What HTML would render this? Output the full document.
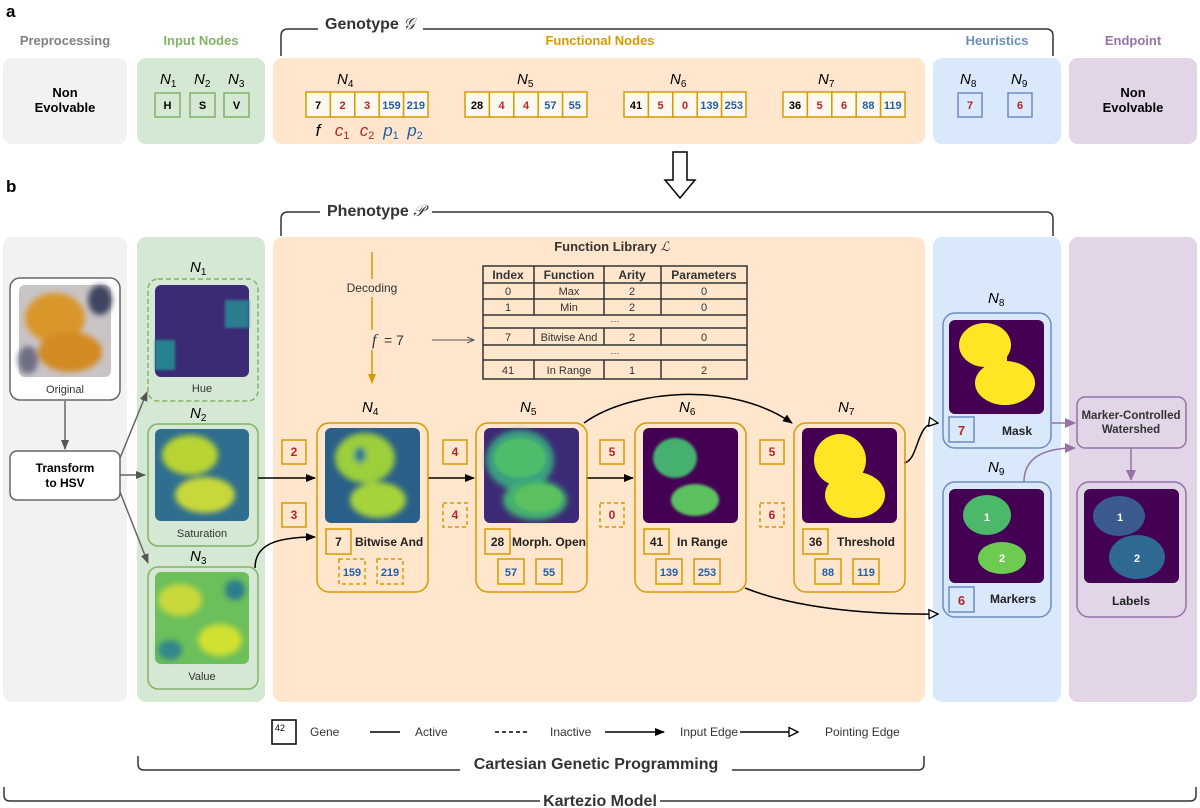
<!DOCTYPE html>
<html><head><meta charset="utf-8"><style>
html,body{margin:0;padding:0;background:#fff}
svg{display:block}
text{font-family:"Liberation Sans",sans-serif}
.b{font-weight:bold}
.m{font-family:"Liberation Serif",serif;font-style:italic}
</style></head><body>
<svg width="1200" height="808" viewBox="0 0 1200 808" xmlns="http://www.w3.org/2000/svg">
<defs>
<marker id="ar" markerWidth="10" markerHeight="10" refX="9" refY="5" orient="auto" markerUnits="userSpaceOnUse"><path d="M0,1 L10,5 L0,9 Z" fill="#000"/></marker>
<marker id="ag" markerWidth="10" markerHeight="10" refX="9" refY="5" orient="auto" markerUnits="userSpaceOnUse"><path d="M0,1 L10,5 L0,9 Z" fill="#555"/></marker>
<marker id="ah" markerWidth="11" markerHeight="11" refX="10" refY="5.5" orient="auto" markerUnits="userSpaceOnUse"><path d="M1,1 L10,5.5 L1,10 Z" fill="#fff" stroke="#000" stroke-width="1.3"/></marker>
<marker id="ap" markerWidth="12" markerHeight="12" refX="10" refY="6" orient="auto" markerUnits="userSpaceOnUse"><path d="M0,1 L11,6 L0,11 Z" fill="#9673a6"/></marker>
<marker id="ao" markerWidth="10" markerHeight="10" refX="9" refY="5" orient="auto" markerUnits="userSpaceOnUse"><path d="M0,1 L10,5 L0,9 Z" fill="#d79b00"/></marker>
<marker id="at" markerWidth="8" markerHeight="8" refX="7" refY="4" orient="auto" markerUnits="userSpaceOnUse"><path d="M0,1 L7,4 L0,7" fill="none" stroke="#555"/></marker>
<filter id="bl"><feGaussianBlur stdDeviation="3"/></filter>
<filter id="bl2"><feGaussianBlur stdDeviation="1.2"/></filter>
</defs>

<!-- a -->
<text x="6" y="17" class="b" font-size="17">a</text>
<text x="6" y="192" class="b" font-size="17">b</text>

<!-- headers -->
<text x="65" y="45" class="b" font-size="13" fill="#808080" text-anchor="middle">Preprocessing</text>
<text x="201" y="45" class="b" font-size="13" fill="#82b366" text-anchor="middle">Input Nodes</text>
<text x="600" y="45" class="b" font-size="13" fill="#d79b00" text-anchor="middle">Functional Nodes</text>
<text x="997" y="45" class="b" font-size="13" fill="#6c8ebf" text-anchor="middle">Heuristics</text>
<text x="1133" y="45" class="b" font-size="13" fill="#9673a6" text-anchor="middle">Endpoint</text>

<!-- genotype bracket -->
<path d="M281,56 V36 Q281,29 288,29 H1046 Q1053,29 1053,36 V56" fill="none" stroke="#333" stroke-width="1.5"/>
<rect x="318" y="12" width="105" height="24" fill="#fff"/>
<text x="325" y="29" class="b" font-size="16" fill="#333">Genotype <tspan class="m" font-weight="normal">𝒢</tspan></text>

<!-- top panels -->
<rect x="3" y="58" width="124" height="86" rx="9" fill="#f2f2f2"/>
<rect x="137" y="58" width="128" height="86" rx="9" fill="#d5e8d4"/>
<rect x="273" y="58" width="652" height="86" rx="9" fill="#ffe6cc"/>
<rect x="933" y="58" width="128" height="86" rx="9" fill="#dae8fc"/>
<rect x="1069" y="58" width="128" height="86" rx="9" fill="#e1d5e7"/>
<text x="65" y="97" class="b" font-size="13" text-anchor="middle">Non</text>
<text x="65" y="112" class="b" font-size="13" text-anchor="middle">Evolvable</text>
<text x="1133" y="97" class="b" font-size="13" text-anchor="middle">Non</text>
<text x="1133" y="112" class="b" font-size="13" text-anchor="middle">Evolvable</text>

<g font-size="15" class="m">
<text x="160" y="84">N<tspan font-size="10" dy="3" font-style="normal">1</tspan></text>
<text x="194" y="84">N<tspan font-size="10" dy="3" font-style="normal">2</tspan></text>
<text x="228" y="84">N<tspan font-size="10" dy="3" font-style="normal">3</tspan></text>
<text x="337" y="84">N<tspan font-size="10" dy="3" font-style="normal">4</tspan></text>
<text x="517" y="84">N<tspan font-size="10" dy="3" font-style="normal">5</tspan></text>
<text x="670" y="84">N<tspan font-size="10" dy="3" font-style="normal">6</tspan></text>
<text x="818" y="84">N<tspan font-size="10" dy="3" font-style="normal">7</tspan></text>
<text x="960" y="84">N<tspan font-size="10" dy="3" font-style="normal">8</tspan></text>
<text x="1011" y="84">N<tspan font-size="10" dy="3" font-style="normal">9</tspan></text>
</g>
<g fill="none" stroke="#82b366" stroke-width="1.5">
<rect x="155" y="93" width="25" height="24"/><rect x="190" y="93" width="25" height="24"/><rect x="224" y="93" width="25" height="24"/>
</g>
<g class="b" font-size="11" text-anchor="middle">
<text x="167.5" y="109">H</text><text x="202.5" y="109">S</text><text x="236.5" y="109">V</text>
</g>
<g fill="none" stroke="#6c8ebf" stroke-width="1.5">
<rect x="958" y="93" width="24" height="24"/><rect x="1008" y="93" width="24" height="24"/>
</g>
<text x="970" y="109" class="b" font-size="11" fill="#b5262b" text-anchor="middle">7</text>
<text x="1020" y="109" class="b" font-size="11" fill="#b5262b" text-anchor="middle">6</text>

<!-- gene strips -->
<g fill="#fff8ee" stroke="#d79b00" stroke-width="1.5">
<rect x="306" y="92" width="24.4" height="25"/><rect x="330.4" y="92" width="24.4" height="25"/><rect x="354.8" y="92" width="24.4" height="25"/><rect x="379.2" y="92" width="24.4" height="25"/><rect x="403.6" y="92" width="24.4" height="25"/>
<rect x="465" y="92" width="24.4" height="25"/><rect x="489.4" y="92" width="24.4" height="25"/><rect x="513.8" y="92" width="24.4" height="25"/><rect x="538.2" y="92" width="24.4" height="25"/><rect x="562.6" y="92" width="24.4" height="25"/>
<rect x="624" y="92" width="24.4" height="25"/><rect x="648.4" y="92" width="24.4" height="25"/><rect x="672.8" y="92" width="24.4" height="25"/><rect x="697.2" y="92" width="24.4" height="25"/><rect x="721.6" y="92" width="24.4" height="25"/>
<rect x="783" y="92" width="24.4" height="25"/><rect x="807.4" y="92" width="24.4" height="25"/><rect x="831.8" y="92" width="24.4" height="25"/><rect x="856.2" y="92" width="24.4" height="25"/><rect x="880.6" y="92" width="24.4" height="25"/>
</g>
<g class="b" font-size="11" text-anchor="middle">
<text x="318" y="109">7</text><text x="342.6" y="109" fill="#b5262b">2</text><text x="367" y="109" fill="#b5262b">3</text><text x="391.4" y="109" fill="#1f5fa8">159</text><text x="415.8" y="109" fill="#1f5fa8">219</text>
<text x="477" y="109">28</text><text x="501.6" y="109" fill="#b5262b">4</text><text x="526" y="109" fill="#b5262b">4</text><text x="550.4" y="109" fill="#1f5fa8">57</text><text x="574.8" y="109" fill="#1f5fa8">55</text>
<text x="636" y="109">41</text><text x="660.6" y="109" fill="#b5262b">5</text><text x="685" y="109" fill="#b5262b">0</text><text x="709.4" y="109" fill="#1f5fa8">139</text><text x="733.8" y="109" fill="#1f5fa8">253</text>
<text x="795" y="109">36</text><text x="819.6" y="109" fill="#b5262b">5</text><text x="844" y="109" fill="#b5262b">6</text><text x="868.4" y="109" fill="#1f5fa8">88</text><text x="892.8" y="109" fill="#1f5fa8">119</text>
</g>
<g class="m" font-size="17" text-anchor="middle">
<text x="318" y="136">f</text>
<text x="342" y="136" fill="#b5262b">c<tspan font-size="11" dy="3" font-style="normal">1</tspan></text>
<text x="367" y="136" fill="#b5262b">c<tspan font-size="11" dy="3" font-style="normal">2</tspan></text>
<text x="391" y="136" fill="#1f5fa8">p<tspan font-size="11" dy="3" font-style="normal">1</tspan></text>
<text x="415" y="136" fill="#1f5fa8">p<tspan font-size="11" dy="3" font-style="normal">2</tspan></text>
</g>

<!-- big hollow down arrow -->
<path d="M673,152 H687 V180 H695 L680,198 L665,180 H673 Z" fill="#fff" stroke="#000" stroke-width="1.5"/>

<!-- phenotype bracket -->
<path d="M281,236 V219 Q281,212 288,212 H1046 Q1053,212 1053,219 V236" fill="none" stroke="#333" stroke-width="1.5"/>
<rect x="320" y="198" width="112" height="24" fill="#fff"/>
<text x="327" y="216" class="b" font-size="16" fill="#333">Phenotype <tspan class="m" font-weight="normal">𝒫</tspan></text>

<!-- bottom panels -->
<rect x="3" y="237" width="124" height="465" rx="9" fill="#f2f2f2"/>
<rect x="137" y="237" width="128" height="465" rx="9" fill="#d5e8d4"/>
<rect x="273" y="237" width="652" height="465" rx="9" fill="#ffe6cc"/>
<rect x="933" y="237" width="128" height="465" rx="9" fill="#dae8fc"/>
<rect x="1069" y="237" width="128" height="465" rx="9" fill="#e1d5e7"/>

<!-- original -->
<rect x="10" y="278" width="110" height="122" rx="10" fill="#fff" stroke="#666" stroke-width="1.5"/>
<rect x="19" y="285" width="92" height="92" rx="6" fill="#c9c4c6"/>
<g filter="url(#bl)">
<ellipse cx="55" cy="318" rx="30" ry="25" fill="#d9962c"/>
<ellipse cx="70" cy="352" rx="32" ry="20" fill="#d28a22"/>
<ellipse cx="100" cy="300" rx="12" ry="15" fill="#3d4560"/>
<ellipse cx="28" cy="360" rx="10" ry="14" fill="#6e6e84"/>
</g>
<text x="65" y="393" font-size="11" text-anchor="middle" fill="#333">Original</text>

<rect x="10" y="451" width="110" height="49" rx="7" fill="#fff" stroke="#666" stroke-width="1.5"/>
<text x="65" y="472" class="b" font-size="12" text-anchor="middle">Transform</text>
<text x="65" y="487" class="b" font-size="12" text-anchor="middle">to HSV</text>
<g stroke="#666" stroke-width="1.5" fill="none" marker-end="url(#ag)">
<path d="M65,401 V449"/>
<path d="M120,458 L147,392"/>
<path d="M120,475 H145"/>
<path d="M120,492 L148,563"/>
</g>

<!-- input nodes -->
<g class="m" font-size="15">
<text x="190" y="272">N<tspan font-size="10" dy="3" font-style="normal">1</tspan></text>
<text x="190" y="418">N<tspan font-size="10" dy="3" font-style="normal">2</tspan></text>
<text x="190" y="561">N<tspan font-size="10" dy="3" font-style="normal">3</tspan></text>
</g>
<rect x="148" y="279" width="110" height="122" rx="10" fill="none" stroke="#82b366" stroke-width="1.5" stroke-dasharray="5,3"/>
<rect x="155" y="285" width="94" height="92" rx="6" fill="#3b2a76"/>
<rect x="225" y="300" width="24" height="28" fill="#2a7b8e" filter="url(#bl2)"/>
<rect x="155" y="340" width="20" height="30" fill="#26828e" filter="url(#bl2)"/>
<text x="202" y="392" font-size="11" text-anchor="middle" fill="#333">Hue</text>

<rect x="148" y="424" width="110" height="122" rx="10" fill="none" stroke="#82b366" stroke-width="1.5"/>
<rect x="155" y="429" width="94" height="92" rx="6" fill="#2f6e8e"/>
<g filter="url(#bl)"><ellipse cx="190" cy="455" rx="28" ry="20" fill="#b8d430"/><ellipse cx="205" cy="495" rx="30" ry="18" fill="#c8d83a"/></g>
<text x="202" y="537" font-size="11" text-anchor="middle" fill="#333">Saturation</text>

<rect x="148" y="567" width="110" height="122" rx="10" fill="none" stroke="#82b366" stroke-width="1.5"/>
<rect x="155" y="572" width="94" height="92" rx="6" fill="#6cbf5a"/>
<g filter="url(#bl)"><ellipse cx="180" cy="600" rx="22" ry="16" fill="#c9d93a"/><ellipse cx="220" cy="640" rx="22" ry="16" fill="#d2e030"/><ellipse cx="235" cy="590" rx="10" ry="10" fill="#2a7b8e"/><ellipse cx="170" cy="650" rx="12" ry="10" fill="#30878b"/></g>
<text x="202" y="680" font-size="11" text-anchor="middle" fill="#333">Value</text>

<!-- decoding -->
<path d="M372,252 V383" stroke="#d79b00" stroke-width="1.5" marker-end="url(#ao)"/>
<rect x="340" y="279" width="66" height="18" fill="#ffe6cc"/>
<text x="372" y="292" font-size="12" text-anchor="middle" fill="#333">Decoding</text>
<rect x="360" y="330" width="60" height="20" fill="#ffe6cc"/>
<text x="372" y="345" class="m" font-size="16" fill="#333">f</text><text x="384" y="345" font-size="14" fill="#333">= 7</text>
<path d="M432,340 H474" stroke="#555" stroke-width="1" marker-end="url(#at)"/>

<!-- function library -->
<text x="612" y="251" class="b" font-size="13" fill="#333" text-anchor="middle">Function Library <tspan class="m" font-weight="normal">ℒ</tspan></text>
<g stroke="#333" stroke-width="1.5" fill="none">
<rect x="483" y="266" width="264" height="113"/>
<path d="M483,283 H747 M483,299 H747 M483,315 H747 M483,328 H747 M483,345 H747 M483,360 H747"/>
<path d="M534,266 V315 M604,266 V315 M661,266 V315 M534,328 V345 M604,328 V345 M661,328 V345 M534,360 V379 M604,360 V379 M661,360 V379"/>
</g>
<g font-size="12" text-anchor="middle" fill="#333">
<text x="508" y="279" class="b">Index</text><text x="569" y="279" class="b">Function</text><text x="632" y="279" class="b">Arity</text><text x="704" y="279" class="b">Parameters</text>
<g font-size="11">
<text x="508" y="295">0</text><text x="569" y="295">Max</text><text x="632" y="295">2</text><text x="704" y="295">0</text>
<text x="508" y="311">1</text><text x="569" y="311">Min</text><text x="632" y="311">2</text><text x="704" y="311">0</text>
<text x="615" y="324" font-size="9">···</text>
<text x="508" y="341">7</text><text x="569" y="341">Bitwise And</text><text x="632" y="341">2</text><text x="704" y="341">0</text>
<text x="615" y="356" font-size="9">···</text>
<text x="508" y="374">41</text><text x="569" y="374">In Range</text><text x="632" y="374">1</text><text x="704" y="374">2</text>
</g></g>

<!-- functional node labels -->
<g class="m" font-size="15">
<text x="362" y="412">N<tspan font-size="10" dy="3" font-style="normal">4</tspan></text>
<text x="520" y="412">N<tspan font-size="10" dy="3" font-style="normal">5</tspan></text>
<text x="679" y="412">N<tspan font-size="10" dy="3" font-style="normal">6</tspan></text>
<text x="838" y="412">N<tspan font-size="10" dy="3" font-style="normal">7</tspan></text>
</g>

<!-- connectors -->
<g stroke="#000" stroke-width="1.5" fill="none">
<path d="M258,478 H315" marker-end="url(#ar)"/>
<path d="M255,568 C255,545 275,537 315,537" marker-end="url(#ar)"/>
<path d="M428,478 H474" marker-end="url(#ar)"/>
<path d="M586,478 H633" marker-end="url(#ar)"/>
<path d="M584,423 C630,390 730,380 792,423" marker-end="url(#ar)"/>
<path d="M745,588 C800,610 880,615 938,614" marker-end="url(#ah)"/>
<path d="M904,463 C920,460 915,420 938,423" marker-end="url(#ah)"/>
</g>

<!-- N4..N7 boxes -->
<g fill="none" stroke="#d79b00" stroke-width="1.5">
<rect x="317" y="423" width="111" height="169" rx="12"/>
<rect x="476" y="423" width="111" height="169" rx="12"/>
<rect x="635" y="423" width="111" height="169" rx="12"/>
<rect x="794" y="423" width="111" height="169" rx="12"/>
</g>
<!-- images -->
<rect x="325" y="428" width="95" height="95" rx="6" fill="#2a5f8a"/>
<g filter="url(#bl)"><ellipse cx="365" cy="458" rx="30" ry="25" fill="#9ccf3a"/><ellipse cx="378" cy="500" rx="28" ry="18" fill="#a6d33a"/><ellipse cx="360" cy="455" rx="6" ry="8" fill="#2a7b8e"/></g>
<rect x="484" y="428" width="95" height="95" rx="6" fill="#3b2a76"/>
<g filter="url(#bl)"><ellipse cx="520" cy="460" rx="34" ry="30" fill="#3aa080"/><ellipse cx="535" cy="500" rx="32" ry="20" fill="#45b070"/></g>
<g filter="url(#bl2)"><ellipse cx="520" cy="458" rx="26" ry="20" fill="#50bc6a"/><ellipse cx="538" cy="498" rx="24" ry="14" fill="#5ac060"/></g>
<rect x="643" y="428" width="95" height="95" rx="6" fill="#440154"/>
<g filter="url(#bl2)"><ellipse cx="675" cy="458" rx="22" ry="20" fill="#45b070"/><ellipse cx="695" cy="500" rx="24" ry="16" fill="#5cc060"/></g>
<rect x="802" y="428" width="95" height="95" rx="6" fill="#440154"/>
<g fill="#fde725"><ellipse cx="840" cy="460" rx="26" ry="26"/><ellipse cx="855" cy="495" rx="30" ry="23"/><rect x="832" y="470" width="30" height="25"/></g>

<!-- gene boxes left of nodes -->
<g fill="none" stroke="#d79b00" stroke-width="1.5">
<rect x="282" y="440" width="24" height="24"/>
<rect x="282" y="503" width="24" height="24"/>
<rect x="443" y="440" width="24" height="24"/>
<rect x="443" y="503" width="24" height="24" stroke-dasharray="4,3"/>
<rect x="600" y="440" width="24" height="24"/>
<rect x="600" y="503" width="24" height="24" stroke-dasharray="4,3"/>
<rect x="760" y="440" width="24" height="24"/>
<rect x="760" y="503" width="24" height="24" stroke-dasharray="4,3"/>
<rect x="326" y="529" width="25" height="25" stroke="#d79b00"/>
<rect x="485" y="529" width="25" height="25"/>
<rect x="644" y="529" width="25" height="25"/>
<rect x="803" y="529" width="25" height="25"/>
<rect x="339" y="559" width="26" height="25" stroke-dasharray="4,3"/>
<rect x="377" y="559" width="26" height="25" stroke-dasharray="4,3"/>
<rect x="498" y="559" width="26" height="25"/>
<rect x="536" y="559" width="26" height="25"/>
<rect x="656" y="559" width="26" height="25"/>
<rect x="694" y="559" width="26" height="25"/>
<rect x="815" y="559" width="26" height="25"/>
<rect x="853" y="559" width="26" height="25"/>
</g>
<g class="b" font-size="12" text-anchor="middle" fill="#b5262b">
<text x="294" y="456">2</text><text x="294" y="519">3</text>
<text x="455" y="456">4</text><text x="455" y="519">4</text>
<text x="612" y="456">5</text><text x="612" y="519">0</text>
<text x="772" y="456">5</text><text x="772" y="519">6</text>
</g>
<g class="b" font-size="12" fill="#222">
<text x="338.5" y="546" text-anchor="middle">7</text><text x="355" y="546">Bitwise And</text>
<text x="497.5" y="546" text-anchor="middle">28</text><text x="512" y="546">Morph. Open</text>
<text x="656.5" y="546" text-anchor="middle">41</text><text x="677" y="546">In Range</text>
<text x="815.5" y="546" text-anchor="middle">36</text><text x="837" y="546">Threshold</text>
</g>
<g class="b" font-size="11" text-anchor="middle" fill="#1f5fa8">
<text x="352" y="576">159</text><text x="390" y="576">219</text>
<text x="511" y="576">57</text><text x="549" y="576">55</text>
<text x="669" y="576">139</text><text x="707" y="576">253</text>
<text x="828" y="576">88</text><text x="866" y="576">119</text>
</g>

<!-- heuristics -->
<g class="m" font-size="15">
<text x="988" y="303">N<tspan font-size="10" dy="3" font-style="normal">8</tspan></text>
<text x="988" y="472">N<tspan font-size="10" dy="3" font-style="normal">9</tspan></text>
</g>
<g fill="none" stroke="#6c8ebf" stroke-width="1.5">
<rect x="943" y="313" width="108" height="135" rx="12"/>
<rect x="943" y="482" width="108" height="135" rx="12"/>
<rect x="949" y="417" width="25" height="25"/>
<rect x="949" y="587" width="25" height="25"/>
</g>
<rect x="949" y="320" width="95" height="94" rx="6" fill="#440154"/>
<g fill="#fde725"><ellipse cx="985" cy="345" rx="26" ry="22"/><ellipse cx="1005" cy="383" rx="30" ry="22"/><rect x="985" y="355" width="22" height="20"/></g>
<text x="961.5" y="435" class="b" font-size="13" fill="#b5262b" text-anchor="middle">7</text>
<text x="1017" y="435" class="b" font-size="12" text-anchor="middle" fill="#222">Mask</text>
<rect x="949" y="489" width="95" height="94" rx="6" fill="#440154"/>
<ellipse cx="987" cy="515" rx="24" ry="20" fill="#4cb86a"/>
<ellipse cx="1002" cy="558" rx="24" ry="16" fill="#6ccb50"/>
<text x="987" y="521" class="b" font-size="11" fill="#fff" text-anchor="middle">1</text>
<text x="1002" y="562" class="b" font-size="11" fill="#fff" text-anchor="middle">2</text>
<text x="961.5" y="605" class="b" font-size="13" fill="#b5262b" text-anchor="middle">6</text>
<text x="1013" y="603" class="b" font-size="12" text-anchor="middle" fill="#222">Markers</text>

<!-- endpoint -->
<g stroke="#9673a6" stroke-width="1.5" fill="none">
<path d="M1052,423 H1075" marker-end="url(#ap)"/>
<path d="M1024,482 C1024,460 1040,448 1075,448" marker-end="url(#ap)"/>
<path d="M1131,448 V480" marker-end="url(#ap)"/>
<rect x="1077" y="397" width="109" height="51" rx="8" fill="#e1d5e7"/>
<rect x="1077" y="482" width="109" height="135" rx="12"/>
</g>
<text x="1131" y="419" class="b" font-size="11.5" text-anchor="middle" fill="#333">Marker-Controlled</text>
<text x="1131" y="433" class="b" font-size="11.5" text-anchor="middle" fill="#333">Watershed</text>
<rect x="1084" y="489" width="95" height="94" rx="6" fill="#440154"/>
<ellipse cx="1119" cy="516" rx="26" ry="20" fill="#3b5a8e"/>
<ellipse cx="1137" cy="557" rx="28" ry="22" fill="#2f6890"/>
<text x="1120" y="521" class="b" font-size="11" fill="#fff" text-anchor="middle">1</text>
<text x="1137" y="562" class="b" font-size="11" fill="#fff" text-anchor="middle">2</text>
<text x="1131" y="605" class="b" font-size="12" text-anchor="middle" fill="#222">Labels</text>

<!-- legend -->
<rect x="272" y="720" width="24" height="24" fill="none" stroke="#000" stroke-width="1.5"/>
<text x="275" y="731" font-size="9">42</text>
<text x="310" y="736" font-size="12" fill="#333">Gene</text>
<path d="M370,732 H400" stroke="#000" stroke-width="1.5"/>
<text x="415" y="736" font-size="12" fill="#333">Active</text>
<path d="M495,732 H527" stroke="#000" stroke-width="1.5" stroke-dasharray="4,3"/>
<text x="550" y="736" font-size="12" fill="#333">Inactive</text>
<path d="M605,732 H664" stroke="#000" stroke-width="1.5" marker-end="url(#ar)"/>
<text x="680" y="736" font-size="12" fill="#333">Input Edge</text>
<path d="M740,732 H798" stroke="#000" stroke-width="1.5" marker-end="url(#ah)"/>
<text x="825" y="736" font-size="12" fill="#333">Pointing Edge</text>

<!-- CGP bracket -->
<path d="M138,756 V764 Q138,770 144,770 H918 Q924,770 924,764 V756" fill="none" stroke="#333" stroke-width="1.5"/>
<rect x="460" y="752" width="272" height="24" fill="#fff"/>
<text x="596" y="769" class="b" font-size="16" fill="#333" text-anchor="middle">Cartesian Genetic Programming</text>
<!-- Kartezio bracket -->
<path d="M4,787 V795 Q4,801 10,801 H1190 Q1196,801 1196,795 V787" fill="none" stroke="#333" stroke-width="1.5"/>
<rect x="540" y="790" width="120" height="18" fill="#fff"/>
<text x="600" y="806" class="b" font-size="16" fill="#333" text-anchor="middle">Kartezio Model</text>
</svg>
</body></html>
